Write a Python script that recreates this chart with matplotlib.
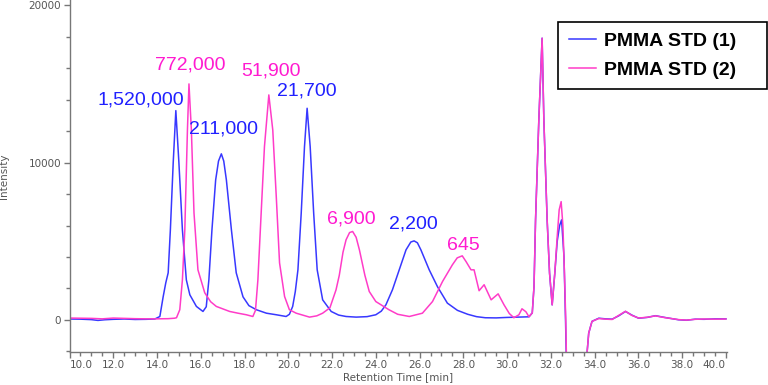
import matplotlib.pyplot as plt
from matplotlib.ticker import MultipleLocator

# retention time [min] / intensity
t_std1 = [10.0, 10.5, 11.0, 11.3, 11.6, 12.0, 12.5, 13.0, 13.5, 13.9,
          14.13, 14.28, 14.4, 14.51, 14.61, 14.74, 14.86, 15.0, 15.16, 15.34,
          15.5, 15.8, 16.1, 16.25, 16.37, 16.51, 16.68, 16.81, 16.94, 17.05,
          17.17, 17.4, 17.62, 17.93, 18.2, 18.54, 19.0, 19.45, 19.9, 20.05,
          20.2, 20.32, 20.44, 20.59, 20.74, 20.86, 21.0, 21.16, 21.32, 21.57,
          21.96, 22.3, 22.64, 23.1, 23.6, 24.0, 24.25, 24.46, 24.76, 25.07,
          25.38, 25.6, 25.75, 25.9, 26.06, 26.44, 26.82, 27.27, 27.73, 28.2,
          28.6, 29.0, 29.5, 30.0, 30.5, 31.0, 31.15, 31.23, 31.3, 31.45,
          31.6, 31.68, 31.83, 31.94, 32.06, 32.18, 32.29, 32.4, 32.49, 32.6,
          32.67, 32.76, 33.6, 33.66, 33.73, 33.88, 34.19, 34.5, 34.8, 35.1,
          35.41, 35.7, 36.01, 36.4, 36.78, 37.2, 37.84, 38.2, 38.6, 39.0,
          39.5, 40.0]
i_std1 = [50, 40, 10, -40, 0, 30, 50, 20, 30, 50,
          210, 1460, 2350, 2990, 5720, 10000, 13310, 10000, 5720, 2540,
          1590, 850, 530, 830, 2540, 5720, 8900, 10100, 10560, 10100,
          8900, 5720, 2990, 1460, 900, 640, 420, 320, 210, 350,
          850, 1800, 3180, 6780, 11020, 13460, 11020, 6780, 3180, 1270,
          530, 300, 210, 170, 200, 320, 550, 950, 1910, 3180,
          4450, 4950, 5020, 4900, 4450, 3180, 2100, 1060, 600, 350,
          200, 130, 120, 150, 170, 190, 440, 2120, 6360, 12720,
          17920, 12720, 6360, 2970, 950, 2970, 5000, 6000, 6360, 4000,
          0, -6000, -6000, -2000, -850, -100, 100, 60, 40, 250,
          530, 300, 100, 150, 260, 150, 0, -30, 40, 30,
          60, 60]

t_std2 = [10.0, 10.5, 11.0, 11.5, 12.0, 12.5, 13.0, 13.5, 14.0, 14.5,
          14.8, 14.89, 15.04, 15.16, 15.27, 15.39, 15.46, 15.57, 15.69, 15.87,
          16.18, 16.45, 16.71, 17.32, 17.7, 18.08, 18.38, 18.5, 18.61, 18.76,
          18.91, 19.11, 19.29, 19.45, 19.6, 19.83, 20.05, 20.36, 20.97, 21.3,
          21.57, 21.9, 22.18, 22.33, 22.5, 22.64, 22.8, 22.94, 23.1, 23.25,
          23.5, 23.7, 24.0, 24.6, 25.0, 25.53, 26.13, 26.59, 27.05, 27.5,
          27.72, 27.95, 28.13, 28.35, 28.49, 28.72, 28.95, 29.27, 29.59, 29.86,
          30.1, 30.31, 30.54, 30.68, 30.86, 31.0, 31.15, 31.23, 31.3, 31.45,
          31.6, 31.68, 31.83, 31.94, 32.06, 32.18, 32.29, 32.38, 32.47, 32.55,
          32.62, 32.68, 32.76, 33.6, 33.66, 33.73, 33.88, 34.19, 34.5, 34.8,
          35.1, 35.41, 35.7, 36.01, 36.4, 36.78, 37.2, 37.84, 38.2, 38.6,
          39.0, 39.5, 40.0]
i_std2 = [110, 100, 90, 60, 110, 90, 70, 60, 60, 70,
          100, 130, 640, 2540, 5720, 12080, 15010, 12080, 6800, 3180,
          1720, 1150, 850, 530, 420, 320, 210, 600, 2540, 6800,
          11020, 14310, 12080, 7840, 3620, 1480, 640, 420, 170, 250,
          420, 760, 1900, 2830, 4300, 5090, 5550, 5620, 5250, 4450,
          2830, 1800, 1160, 640, 350, 210, 420, 1160, 2440, 3500,
          3940, 4070, 3690, 3180, 3180, 1850, 2230, 1270, 1650, 950,
          400, 130, 320, 700, 510, 190, 440, 2120, 6360, 12720,
          17920, 12720, 6360, 2970, 950, 2970, 5300, 7000, 7520, 6000,
          3000, 0, -6000, -6000, -2000, -850, -100, 80, 40, 20,
          280, 540, 280, 110, 160, 250, 140, 10, -20, 30,
          50, 40, 50]

# molecular weight labels: (text, time, intensity)
labels_std1 = [("1,520,000", 13.24, 14000), ("211,000", 17.05, 12120),
               ("21,700", 20.83, 14540), ("2,200", 25.71, 6070)]
labels_std2 = [("772,000", 15.54, 16220), ("51,900", 19.19, 15840),
               ("6,900", 22.9, 6420), ("645", 28.01, 4740)]

blue_line = '#3838ff'
pink_line = '#ff3cc8'
blue_txt = '#2020ff'
pink_txt = '#ff1ad0'
grey = '#555555'

fig = plt.figure(figsize=(7.68, 3.85), dpi=100)
ax = fig.add_axes([69.5 / 768, 33 / 385, (727 - 69.5) / 768, 352 / 385])

ax.plot(t_std1, i_std1, color=blue_line, lw=1.1, label='PMMA STD (1)')
ax.plot(t_std2, i_std2, color=pink_line, lw=1.1, label='PMMA STD (2)')

for txt, x, y in labels_std1:
    ax.text(x, y, txt, color=blue_txt, fontsize=14, family='Liberation Sans',
            ha='center', va='center')
for txt, x, y in labels_std2:
    ax.text(x, y, txt, color=pink_txt, fontsize=14, family='Liberation Sans',
            ha='center', va='center')

ax.set_xlim(10, 40.05)
ax.set_ylim(-2050, 20350)

for s in ['top', 'right']:
    ax.spines[s].set_visible(False)
for s in ['left', 'bottom']:
    ax.spines[s].set_color('#777777')
    ax.spines[s].set_linewidth(1.0)

xt = list(range(10, 41, 2))
ax.set_xticks(xt)
ax.set_xticklabels(['{:.1f}'.format(v) for v in xt])
xl = ax.get_xticklabels()
xl[0].set_horizontalalignment('left')
xl[-1].set_horizontalalignment('right')
ax.xaxis.set_minor_locator(MultipleLocator(0.5))
ax.set_yticks([0, 10000, 20000])
ax.yaxis.set_minor_locator(MultipleLocator(2000))

ax.tick_params(which='both', direction='out', colors='#777777',
               labelcolor=grey, labelsize=7.5, width=1.0)
ax.tick_params(which='major', length=4, pad=2)
ax.tick_params(which='minor', length=3)

ax.set_xlabel('Retention Time [min]', fontsize=7.5, color=grey, labelpad=1)
ax.set_ylabel('Intensity', fontsize=7.5, color=grey, labelpad=14)

leg = ax.legend(loc='upper left', bbox_to_anchor=(558 / 768, 1 - 22 / 385, 209 / 768, 0.0),
                bbox_transform=fig.transFigure, mode='expand', borderaxespad=0,
                fancybox=False, framealpha=1, edgecolor='black',
                prop={'family': 'Liberation Sans', 'weight': 'bold', 'size': 14},
                handlelength=1.4, handletextpad=0.4, borderpad=0.55,
                labelspacing=0.55)
leg.get_frame().set_linewidth(1.2)

fig.savefig('out.png', dpi=100)
